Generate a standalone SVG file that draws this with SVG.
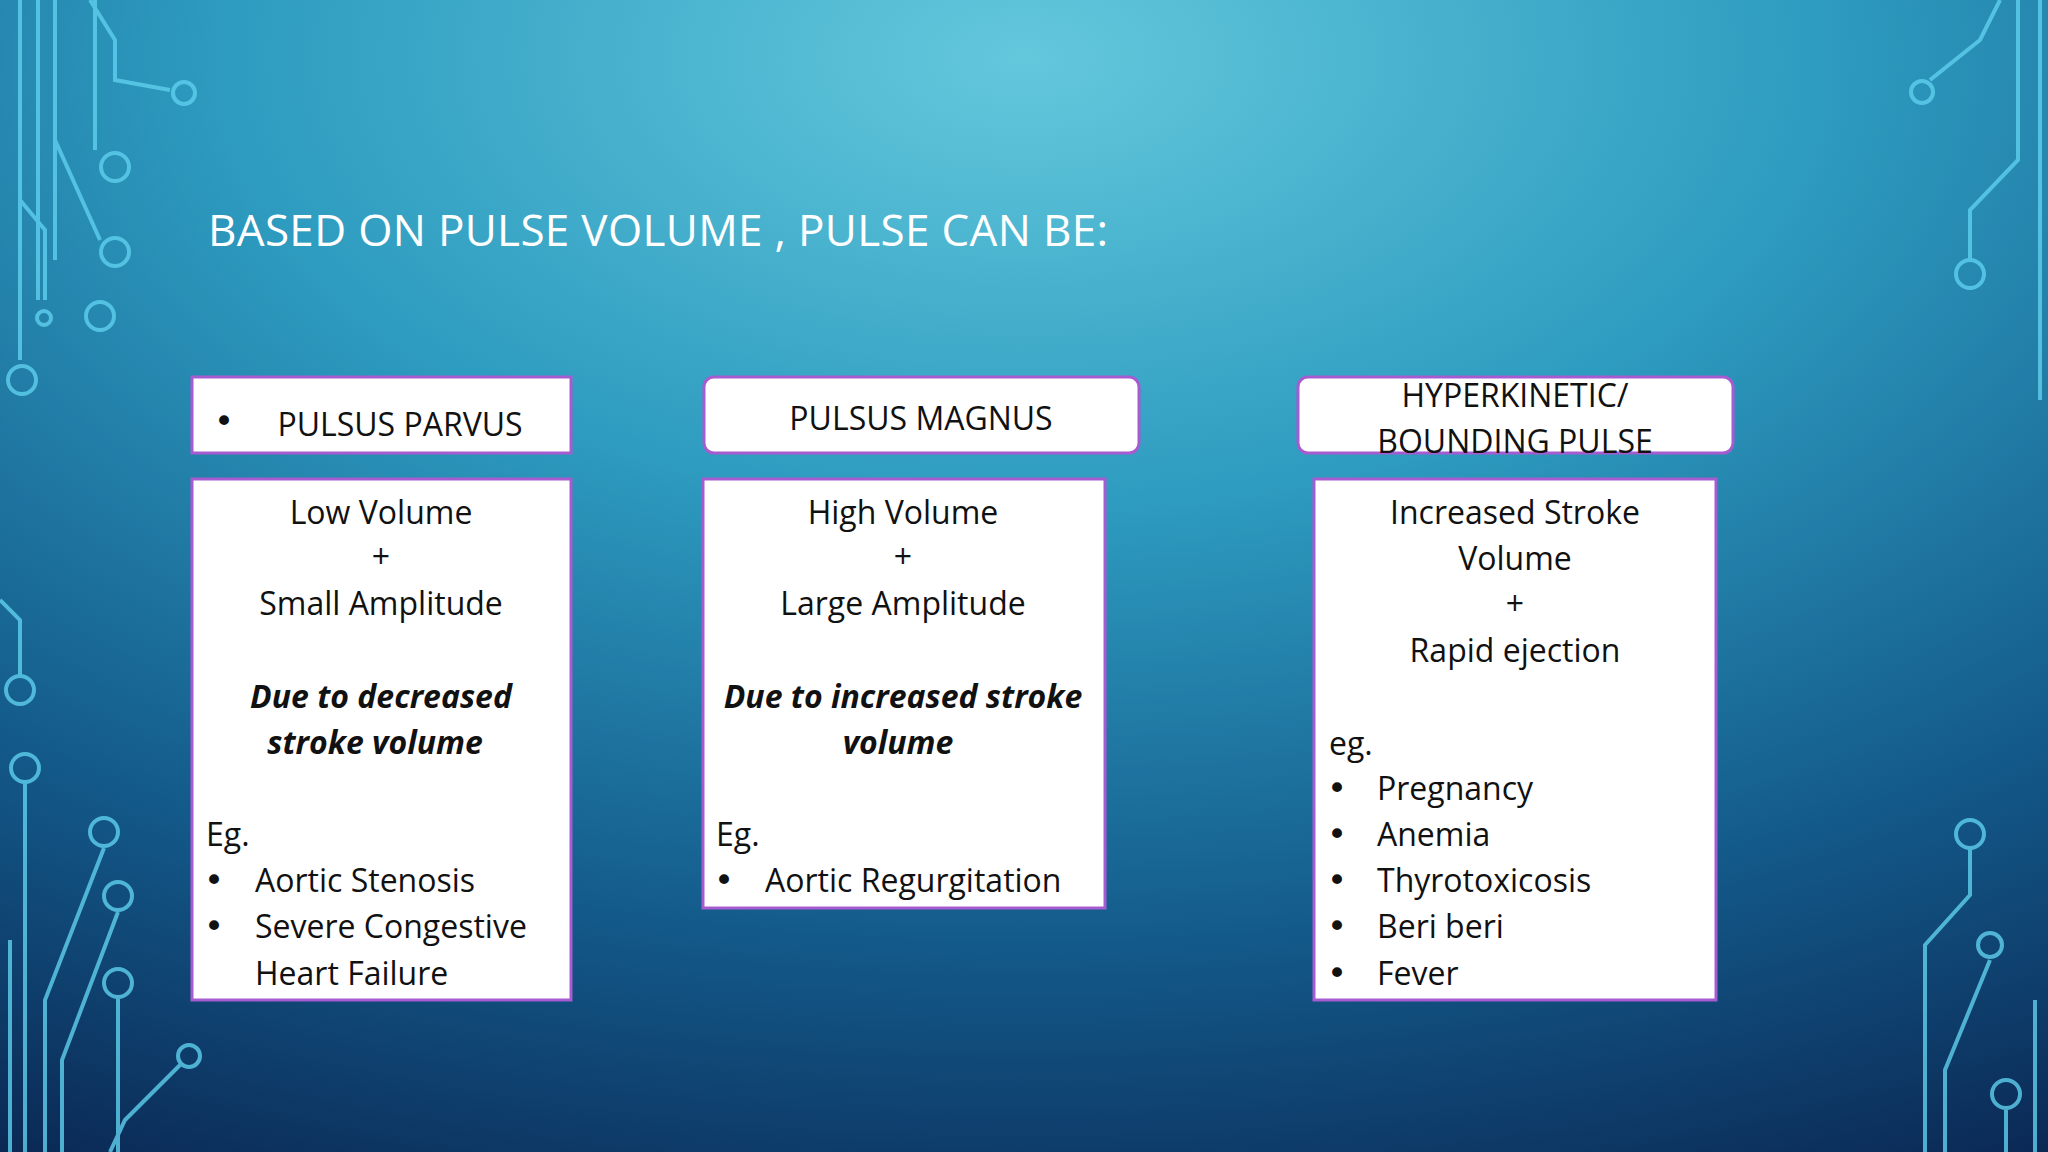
<svg xmlns="http://www.w3.org/2000/svg" width="2048" height="1152" viewBox="0 0 2048 1152">
<defs>
<radialGradient id="bg" cx="0.5" cy="0.05" r="1.1" gradientUnits="objectBoundingBox">
<stop offset="0" stop-color="#63c8dc"/>
<stop offset="0.35" stop-color="#2e9cc0"/>
<stop offset="0.7" stop-color="#135a8a"/>
<stop offset="1" stop-color="#0a2450"/>
</radialGradient>
<style>
.box{fill:#fff;stroke:#a65cd0;stroke-width:3}
.t{font-family:"Open Sans","Liberation Sans",sans-serif;font-size:32px;fill:#111}
.c{text-anchor:middle}
.b{font-weight:bold;font-style:italic}
.d{font-family:"DejaVu Sans",sans-serif;font-size:34px;fill:#111}
.h{font-family:"Open Sans","Liberation Sans",sans-serif;font-size:32px;fill:#111;text-anchor:middle}
.cir{fill:none;stroke:#5fd0ee;stroke-width:4;opacity:0.8}
</style>
</defs>
<rect width="2048" height="1152" fill="url(#bg)"/>
<g class="cir">
<path d="M20 0V360M38 0V300M55 0V260"/>
<path d="M90 0L115 40V80L170 90"/><circle cx="184" cy="93" r="11"/>
<path d="M95 0V150"/><circle cx="115" cy="167" r="14"/>
<path d="M55 140L100 240"/><circle cx="115" cy="252" r="14"/>
<path d="M20 200L45 230V300"/><circle cx="100" cy="316" r="14"/>
<circle cx="22" cy="380" r="14"/><circle cx="44" cy="318" r="7"/>
<path d="M0 600L20 620V675"/><circle cx="20" cy="690" r="14"/>
<path d="M25 783V1152M10 940V1152"/><circle cx="25" cy="768" r="14"/>
<path d="M104 848L45 1000V1152"/><circle cx="104" cy="832" r="14"/>
<path d="M118 912L62 1060V1152"/><circle cx="118" cy="896" r="14"/>
<path d="M118 999V1152"/><circle cx="118" cy="983" r="14"/>
<path d="M180 1065L125 1120L110 1152"/><circle cx="189" cy="1056" r="11"/>
<path d="M2000 0L1980 40L1930 80"/><circle cx="1922" cy="92" r="11"/>
<path d="M2018 0V160L1970 210V260"/><circle cx="1970" cy="274" r="14"/>
<path d="M2040 0V400"/>
<path d="M1970 849V895L1925 945V1152"/><circle cx="1970" cy="834" r="14"/>
<path d="M1990 960L1945 1070V1152"/><circle cx="1990" cy="945" r="12"/>
<path d="M2006 1110V1152"/><circle cx="2006" cy="1094" r="14"/>
<path d="M2035 1000V1152"/>
</g>
<text x="208" y="246" font-family="'Open Sans','Liberation Sans',sans-serif" font-size="44" fill="#fff" textLength="900" lengthAdjust="spacing">BASED ON PULSE VOLUME , PULSE CAN BE:</text>
<g id="n1h"><rect class="box" x="192" y="377" width="379" height="76"/>
<text class="d" x="214" y="433">•</text><text class="h" x="400" y="436" font-size="34">PULSUS PARVUS</text></g>
<g id="n2h"><rect class="box" x="704" y="377" width="435" height="76" rx="10"/>
<text class="h" x="921" y="430">PULSUS MAGNUS</text></g>
<g id="n3h"><rect class="box" x="1298" y="377" width="435" height="76" rx="10"/>
<text class="h" x="1515" y="407">HYPERKINETIC/</text><text class="h" x="1515" y="453">BOUNDING PULSE</text></g>
<g id="n1"><rect class="box" x="192" y="479" width="379" height="521"/>
<text class="t c" x="381" y="524">Low Volume</text>
<text class="t c" x="381" y="568">+</text>
<text class="t c" x="381" y="615">Small Amplitude</text>
<text class="t c b" x="381" y="708">Due to decreased</text>
<text class="t c b" x="375" y="754">stroke volume</text>
<text class="t" x="206" y="846">Eg.</text>
<text class="d" x="204" y="892">•</text><text class="t" x="255" y="892">Aortic Stenosis</text>
<text class="d" x="204" y="938">•</text><text class="t" x="255" y="938">Severe Congestive</text>
<text class="t" x="255" y="985">Heart Failure</text></g>
<g id="n2"><rect class="box" x="703" y="479" width="402" height="429"/>
<text class="t c" x="903" y="524">High Volume</text>
<text class="t c" x="903" y="568">+</text>
<text class="t c" x="903" y="615">Large Amplitude</text>
<text class="t c b" x="903" y="708">Due to increased stroke</text>
<text class="t c b" x="898" y="754">volume</text>
<text class="t" x="716" y="846">Eg.</text>
<text class="d" x="714" y="892">•</text><text class="t" x="765" y="892">Aortic Regurgitation</text></g>
<g id="n3"><rect class="box" x="1314" y="479" width="402" height="521"/>
<text class="t c" x="1515" y="524">Increased Stroke</text>
<text class="t c" x="1515" y="570">Volume</text>
<text class="t c" x="1515" y="615">+</text>
<text class="t c" x="1515" y="662">Rapid ejection</text>
<text class="t" x="1329" y="755">eg.</text>
<text class="d" x="1327" y="800">•</text><text class="t" x="1377" y="800">Pregnancy</text>
<text class="d" x="1327" y="846">•</text><text class="t" x="1377" y="846">Anemia</text>
<text class="d" x="1327" y="892">•</text><text class="t" x="1377" y="892">Thyrotoxicosis</text>
<text class="d" x="1327" y="938">•</text><text class="t" x="1377" y="938">Beri beri</text>
<text class="d" x="1327" y="985">•</text><text class="t" x="1377" y="985">Fever</text></g>
<g id="connectors"></g>
</svg>
